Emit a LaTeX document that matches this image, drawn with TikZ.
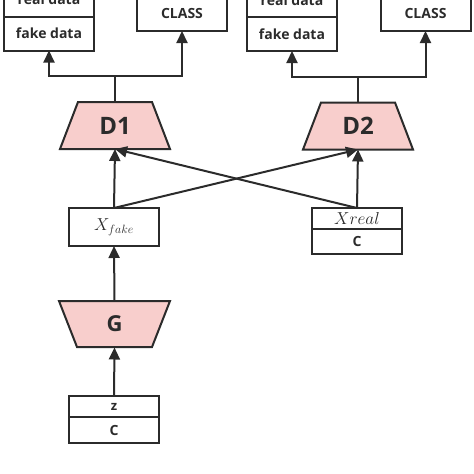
\documentclass[tikz,border=0pt]{standalone}
\usepackage{fontspec}
\setmainfont{Open Sans}
\usetikzlibrary{arrows.meta,positioning}
\definecolor{netpink}{HTML}{F8CECC}
\definecolor{linegray}{HTML}{2B2B2B}

\begin{document}
\begin{tikzpicture}[x=1pt,y=-1pt,line width=2pt,draw=linegray,text=linegray,
  cell/.style={draw=linegray,line width=2pt,minimum width=90pt,minimum height=34pt,
    inner sep=0pt,outer sep=0pt,font=\fontsize{14}{16}\selectfont\bfseries},
  netfill/.style={draw=linegray,fill=netpink,line width=2pt,line join=miter},
  net/.style={minimum width=108pt,minimum height=47pt,inner sep=0pt,outer sep=0pt,
    font=\fontsize{24}{26}\selectfont\bfseries},
  arr/.style={-{Triangle[length=12pt,width=11pt]}}]
\clip (0,0) rectangle (474,474);
%outputs of the two discriminators
\node[cell] (fakeL) at (49,33.5) {fake data};
\node[cell,above=0pt of fakeL] (realL) {real data};
\node[cell,minimum height=36pt] (classL) at (182,13) {CLASS};
\node[cell] (fakeR) at (292,34) {fake data};
\node[cell,above=0pt of fakeR] (realR) {real data};
\node[cell,minimum height=36pt] (classR) at (425.5,13) {CLASS};
%networks
\foreach \n/\x/\y in {D1/115/125.5,D2/358/126}{
  \draw[netfill] (\x-55,\y+23.5) -- (\x+55,\y+23.5) -- (\x+37,\y-23.5) -- (\x-37,\y-23.5) -- cycle;
  \node[net] (\n) at (\x,\y) {\n};
}
\draw[netfill] (59,301) -- (170,301) -- (152,347) -- (77,347) -- cycle;
\node[net,font=\fontsize{22}{24}\selectfont\bfseries] (G) at (114.5,324) {G};
%inputs
\node[cell,minimum height=38pt,font=\fontsize{18}{20}\selectfont] (xfake) at (114,227) {$X_{fake}$};
\node[cell,minimum height=21pt,font=\fontsize{17}{19}\selectfont] (xreal) at (357,218.5) {$Xreal$};
\node[cell,minimum height=25pt,below=0pt of xreal] (cR) {C};
\node[cell,minimum height=21pt,font=\fontsize{13}{15}\selectfont\bfseries] (z) at (114,406.5) {z};
\node[cell,minimum height=26pt,below=0pt of z] (cz) {C};
%connections
\coordinate (j1) at (D1.north |- 0,76);
\coordinate (j2) at (D2.north |- 0,77);
\draw[arr] (D1.north) -- (j1) -| (fakeL.south);
\draw[arr] (j1) -| (classL.south);
\draw[arr] (D2.north) -- (j2) -| (fakeR.south);
\draw[arr] (j2) -| (classR.south);
\foreach \a in {xfake,xreal}
  \foreach \b in {D1,D2}
    \draw[arr] (\a.north) -- (\b.south);
\draw[arr] (G.north) -- (xfake.south);
\draw[arr] (z.north) -- (G.south);
\end{tikzpicture}
\end{document}
